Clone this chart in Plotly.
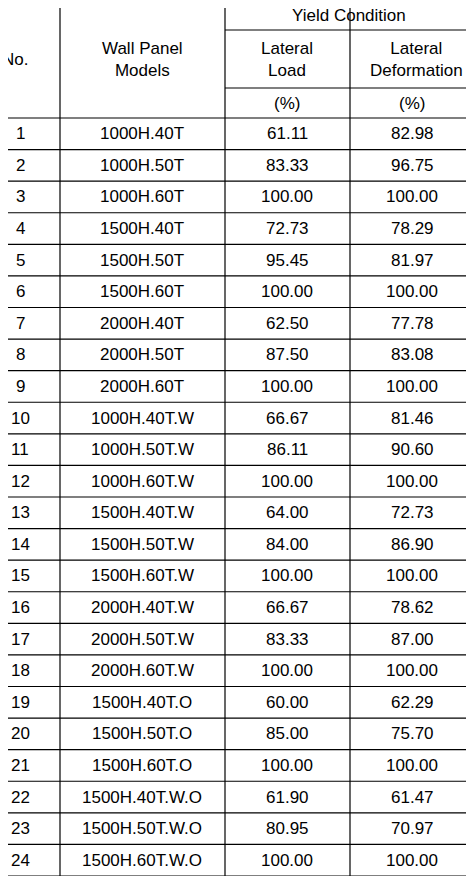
import plotly.graph_objects as go

nos = [str(i) for i in range(1, 25)]
models = ["1000H.40T","1000H.50T","1000H.60T","1500H.40T","1500H.50T","1500H.60T",
          "2000H.40T","2000H.50T","2000H.60T","1000H.40T.W","1000H.50T.W","1000H.60T.W",
          "1500H.40T.W","1500H.50T.W","1500H.60T.W","2000H.40T.W","2000H.50T.W","2000H.60T.W",
          "1500H.40T.O","1500H.50T.O","1500H.60T.O","1500H.40T.W.O","1500H.50T.W.O","1500H.60T.W.O"]
load = ["61.11","83.33","100.00","72.73","95.45","100.00","62.50","87.50","100.00","66.67",
        "86.11","100.00","64.00","84.00","100.00","66.67","83.33","100.00","60.00","85.00",
        "100.00","61.90","80.95","100.00"]
deform = ["82.98","96.75","100.00","78.29","81.97","100.00","77.78","83.08","100.00","81.46",
          "90.60","100.00","72.73","86.90","100.00","78.62","87.00","100.00","62.29","75.70",
          "100.00","61.47","70.97","100.00"]

W, H = 474, 876
OFF = 8  # page body margin compensation
xs = [60, 225, 350]
cx = [20, 142, 287, 412]
h1, h2, h3 = 30, 88, 118
rh = (H - h3) / 24

fig = go.Figure()
shapes = []
ln = dict(color="black", width=1.2)
for x in xs:
    shapes.append(dict(type="line", x0=x, x1=x, y0=-20, y1=H + 20, line=ln))
shapes.append(dict(type="line", x0=225, x1=W + 20, y0=h1, y1=h1, line=ln))
shapes.append(dict(type="line", x0=225, x1=W + 20, y0=h2, y1=h2, line=ln))
for i in range(25):
    y = h3 + i * rh
    shapes.append(dict(type="line", x0=-20, x1=W + 20, y0=y, y1=y, line=ln))

ann = []
f = dict(family="Liberation Sans, Arial", size=17, color="black")
def t(x, y, s):
    ann.append(dict(x=x, y=y, text=s, showarrow=False, font=f, xanchor="center", yanchor="middle"))
t(15, 59, "No.")
t(142, 59, "Wall Panel<br>Models")
t(349, 15, "Yield Condition")
t(287, 59, "Lateral<br>Load")
t(416, 59, "Lateral<br>Deformation")
t(287, 103, "(%)")
t(412, 103, "(%)")
for i in range(24):
    y = h3 + (i + 0.5) * rh
    for c, v in zip(cx, [nos[i], models[i], load[i], deform[i]]):
        t(c, y, v)

fig.add_trace(go.Scatter(x=[OFF, W], y=[OFF, H], mode="markers", marker=dict(opacity=0), hoverinfo="skip"))
fig.update_layout(width=W, height=H, margin=dict(l=0, r=0, t=0, b=0),
                  plot_bgcolor="white", paper_bgcolor="white", showlegend=False,
                  shapes=shapes, annotations=ann,
                  xaxis=dict(range=[OFF, W + OFF], visible=False, fixedrange=True),
                  yaxis=dict(range=[H + OFF, OFF], visible=False, fixedrange=True))
fig.write_html("out.html")
